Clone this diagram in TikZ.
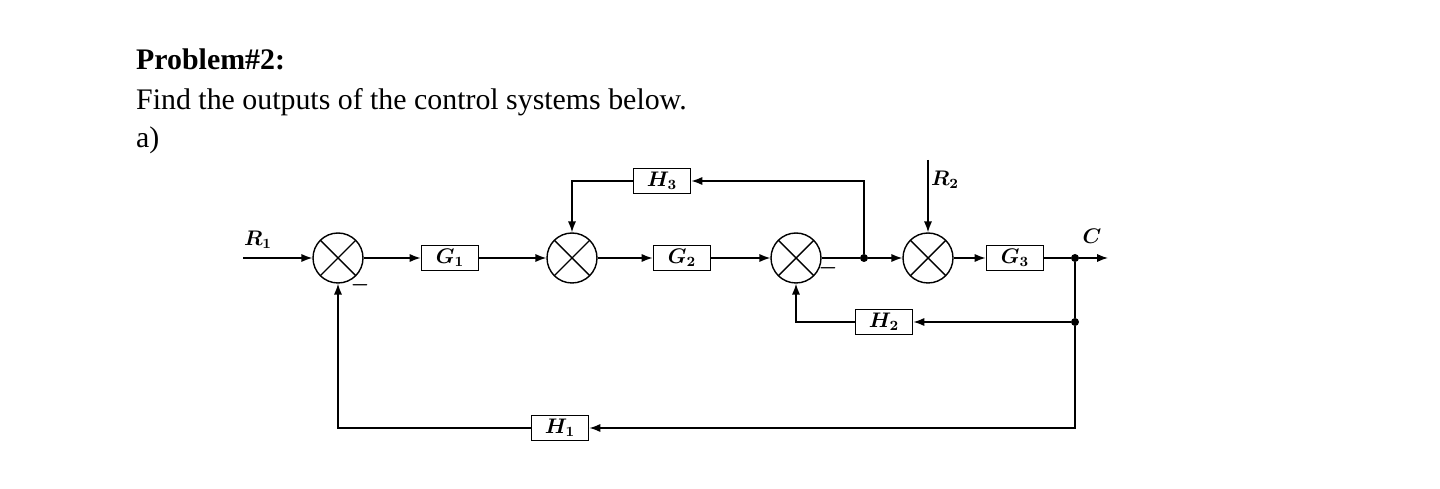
\documentclass[tikz,border=0pt]{standalone}
\usepackage{fontspec}
\setmainfont{Liberation Serif}
\usetikzlibrary{arrows.meta, positioning}
\tikzset{
  blk/.style={draw, thick, rectangle, minimum width=1.15cm, minimum height=0.5cm, inner sep=0pt, font=\boldmath\large},
  sum/.style={draw, thick, circle, minimum size=1cm, inner sep=0pt,
    path picture={\draw[thick] (path picture bounding box.south west) -- (path picture bounding box.north east)
      (path picture bounding box.north west) -- (path picture bounding box.south east);}},
  sig/.style={thick, -{Latex[length=2.2mm]}},
  dot/.style={circle, fill, inner sep=0pt, minimum size=1.6mm},
  lbl/.style={font=\boldmath\large}
}
\begin{document}
\begin{tikzpicture}[x=0.02cm, y=-0.02cm]
  \useasboundingbox (0,0) rectangle (1440,489);
  % text
  \node[anchor=base west, font=\fontsize{17}{20}\selectfont\bfseries] (title) at (130,70) {Problem\#2:};
  \node[anchor=base west, font=\fontsize{17}{20}\selectfont] (task) at (130,110) {Find the outputs of the control systems below.};
  \node[anchor=base west, font=\fontsize{17}{20}\selectfont] (part) at (130,148) {a)};

  % forward path
  \coordinate (in) at (243,258);
  \node[sum] (s1) at (338,258) {};
  \node[blk] (g1) at (450,258) {$G_1$};
  \node[sum] (s2) at (572,258) {};
  \node[blk] (g2) at (682,258) {$G_2$};
  \node[sum] (s3) at (796,258) {};
  \node[dot] (j1) at (864,258) {};
  \node[sum] (s4) at (928,258) {};
  \node[blk] (g3) at (1015,258) {$G_3$};
  \node[dot] (j2) at (1075,258) {};
  \coordinate (out) at (1108,258);

  % feedback blocks
  \node[blk] (h3) at (662,181) {$H_3$};
  \node[blk] (h2) at (884,322) {$H_2$};
  \node[dot] (j3) at (1075,322) {};
  \node[blk] (h1) at (560,428) {$H_1$};
  \coordinate (r2) at (928,160);

  \draw[sig] (in) -- (s1);
  \draw[sig] (s1) -- (g1);
  \draw[sig] (g1) -- (s2);
  \draw[sig] (s2) -- (g2);
  \draw[sig] (g2) -- (s3);
  \draw[thick] (s3) -- (j1);
  \draw[sig] (j1) -- (s4);
  \draw[sig] (s4) -- (g3);
  \draw[thick] (g3) -- (j2);
  \draw[sig] (j2) -- (out);

  \draw[sig] (j1) |- (h3);
  \draw[sig] (h3) -| (s2);
  \draw[sig] (r2) -- (s4);
  \draw[sig] (j3) -- (h2);
  \draw[sig] (h2) -| (s3);
  \draw[thick] (j2) -- (j3);
  \draw[sig] (j3) |- (h1);
  \draw[sig] (h1) -| (s1);

  % labels
  \node[lbl] (lr1) at (258,240) {$R_1$};
  \node[lbl] (lr2) at (945,180) {$R_2$};
  \node[lbl] (lc) at (1092,236) {$C$};
  \node[lbl] (m1) at (360,285) {$-$};
  \node[lbl] (m3) at (828,268) {$-$};
\end{tikzpicture}
\end{document}
